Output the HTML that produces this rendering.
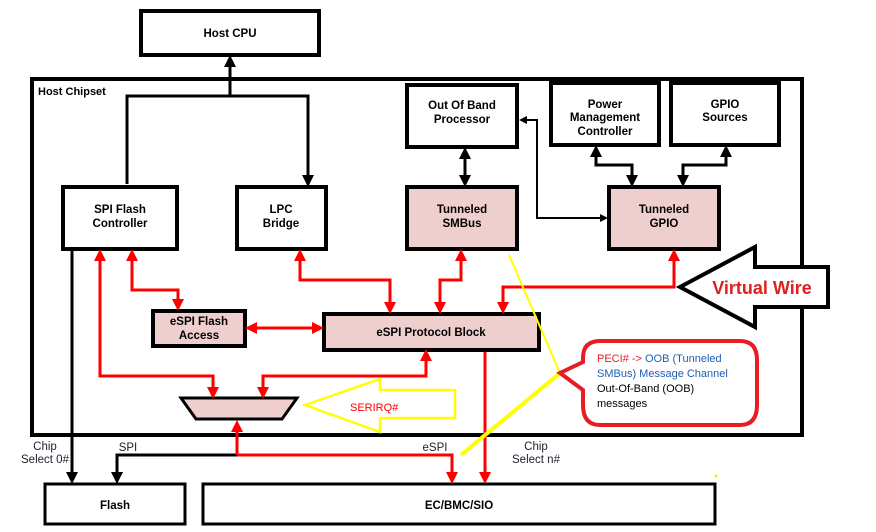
<!DOCTYPE html>
<html><head><style>body{margin:0;background:#fff}svg{display:block}text{font-family:"Liberation Sans",Arial,sans-serif}</style></head><body>
<svg width="876" height="532" viewBox="0 0 876 532" xmlns="http://www.w3.org/2000/svg">
<defs>
<marker id="rb" markerWidth="4" markerHeight="4" refX="3" refY="2" orient="auto" markerUnits="strokeWidth"><path d="M0,0 L4,2 L0,4z" fill="#f00"/></marker>
<marker id="rs" markerWidth="4" markerHeight="4" refX="1" refY="2" orient="auto" markerUnits="strokeWidth"><path d="M4,0 L0,2 L4,4z" fill="#f00"/></marker>
<marker id="kb" markerWidth="4" markerHeight="4" refX="3" refY="2" orient="auto" markerUnits="strokeWidth"><path d="M0,0 L4,2 L0,4z" fill="#000"/></marker>
<marker id="ks" markerWidth="4" markerHeight="4" refX="1" refY="2" orient="auto" markerUnits="strokeWidth"><path d="M4,0 L0,2 L4,4z" fill="#000"/></marker>
</defs>
<g stroke="#000" stroke-width="4">
<rect x="32" y="79" width="770" height="356" fill="none"/>
<rect x="141" y="11" width="178" height="44" fill="#fff"/>
<rect x="63" y="187" width="114" height="62" fill="#fff"/>
<rect x="237" y="187" width="89" height="62" fill="#fff"/>
<rect x="407" y="187" width="110" height="62" fill="#efcfcd"/>
<rect x="407" y="85" width="110" height="62" fill="#fff"/>
<rect x="551" y="83" width="108" height="62" fill="#fff"/>
<rect x="671" y="83" width="108" height="62" fill="#fff"/>
<rect x="609" y="187" width="110" height="62" fill="#efcfcd"/>
<rect x="153" y="311" width="92" height="35" fill="#efcfcd"/>
<rect x="324" y="314" width="215" height="36" fill="#efcfcd"/>
<rect x="45" y="484" width="140" height="40" fill="#fff" stroke-width="3"/>
<rect x="203" y="484" width="512" height="40" fill="#fff" stroke-width="3"/>
</g>
<path d="M181,398 L297,398 L282,419 L196,419Z" fill="#efcfcd" stroke="#000" stroke-width="3"/>
<g fill="#000" font-weight="bold" font-size="11.5" text-anchor="middle">
<text x="230" y="37">Host CPU</text>
<text x="120" y="213">SPI Flash</text><text x="120" y="227">Controller</text>
<text x="281" y="213">LPC</text><text x="281" y="227">Bridge</text>
<text x="462" y="213">Tunneled</text><text x="462" y="227">SMBus</text>
<text x="462" y="109">Out Of Band</text><text x="462" y="123">Processor</text>
<text x="605" y="108">Power</text><text x="605" y="121">Management</text><text x="605" y="135">Controller</text>
<text x="725" y="108">GPIO</text><text x="725" y="121">Sources</text>
<text x="664" y="213">Tunneled</text><text x="664" y="227">GPIO</text>
<text x="199" y="325">eSPI Flash</text><text x="199" y="339">Access</text>
<text x="431" y="336">eSPI Protocol Block</text>
<text x="115" y="509">Flash</text>
<text x="459" y="509">EC/BMC/SIO</text>
<text x="38" y="95" text-anchor="start" font-size="11">Host Chipset</text>
</g>
<g fill="#223" font-size="11.5" text-anchor="middle">
<text x="45" y="450">Chip</text><text x="45" y="463">Select 0#</text>
<text x="128" y="451">SPI</text><text x="435" y="451">eSPI</text>
<text x="536" y="450">Chip</text><text x="536" y="463">Select n#</text>
</g>
<g fill="none" stroke="#000" stroke-width="3">
<path d="M230,96 V58" marker-end="url(#kb)"/>
<path d="M127,184 V96 H308 V184" marker-end="url(#kb)"/>
<path d="M465,150 V184" marker-start="url(#ks)" marker-end="url(#kb)"/>
<path d="M521,120 H537 V218 H606" marker-start="url(#ks)" marker-end="url(#kb)" stroke-width="2"/>
<path d="M596,148 V165 H632 V184" marker-start="url(#ks)" marker-end="url(#kb)"/>
<path d="M726,148 V165 H683 V184" marker-start="url(#ks)" marker-end="url(#kb)"/>
<path d="M72,251 V481" marker-end="url(#kb)"/>
<path d="M237,455 H117 V481" marker-end="url(#kb)"/>
</g>
<g fill="none" stroke="#f00" stroke-width="3">
<path d="M100,252 V376 H213 V396" marker-start="url(#rs)" marker-end="url(#rb)"/>
<path d="M132,252 V290 H178 V308" marker-start="url(#rs)" marker-end="url(#rb)"/>
<path d="M248,328 H321" marker-start="url(#rs)" marker-end="url(#rb)"/>
<path d="M300,252 V280 H390 V311" marker-start="url(#rs)" marker-end="url(#rb)"/>
<path d="M461,252 V280 H440 V311" marker-start="url(#rs)" marker-end="url(#rb)"/>
<path d="M674,252 V287 H503 V311" marker-start="url(#rs)" marker-end="url(#rb)"/>
<path d="M426,352 V376 H263 V396" marker-start="url(#rs)" marker-end="url(#rb)"/>
<path d="M485,352 V481" marker-end="url(#rb)"/>
<path d="M237,455 V423" marker-end="url(#rb)"/>
<path d="M237,455 H452 V481" marker-end="url(#rb)"/>
</g>
<path d="M680,287 L755,247 L755,267 L828,267 L828,307 L755,307 L755,327Z" fill="#fff" stroke="#000" stroke-width="4"/>
<text x="762" y="294" fill="#e02020" font-weight="bold" font-size="18" text-anchor="middle">Virtual Wire</text>
<path d="M305,405 L380,379 L380,390 L455,390 L455,418 L380,418 L380,432Z" fill="#fff" stroke="#ff0" stroke-width="2.5"/>
<text x="350" y="411" fill="#f00" font-size="11">SERIRQ#</text>
<path d="M509,255 L560,373" stroke="#ff0" stroke-width="2" fill="none"/>
<path d="M560,373 L461,455" stroke="#ff0" stroke-width="4" fill="none"/>
<path d="M600,341 H740 Q757,341 757,360 V405 Q757,425 740,425 H600 Q583,425 583,405 V390 L560,373 L583,362 V358 Q583,341 600,341Z" fill="#fff" stroke="#e81c24" stroke-width="4"/>
<g font-size="11" font-family="Liberation Sans">
<text x="597" y="362"><tspan fill="#e81c24">PECI# -&gt; </tspan><tspan fill="#1f5fb0">OOB (Tunneled</tspan></text>
<text x="597" y="377" fill="#1f5fb0">SMBus) Message Channel</text>
<text x="597" y="392" fill="#000">Out-Of-Band (OOB)</text>
<text x="597" y="407" fill="#000">messages</text>
</g>
<circle cx="716" cy="476" r="1.5" fill="#ee0"/>
</svg>
</body></html>
